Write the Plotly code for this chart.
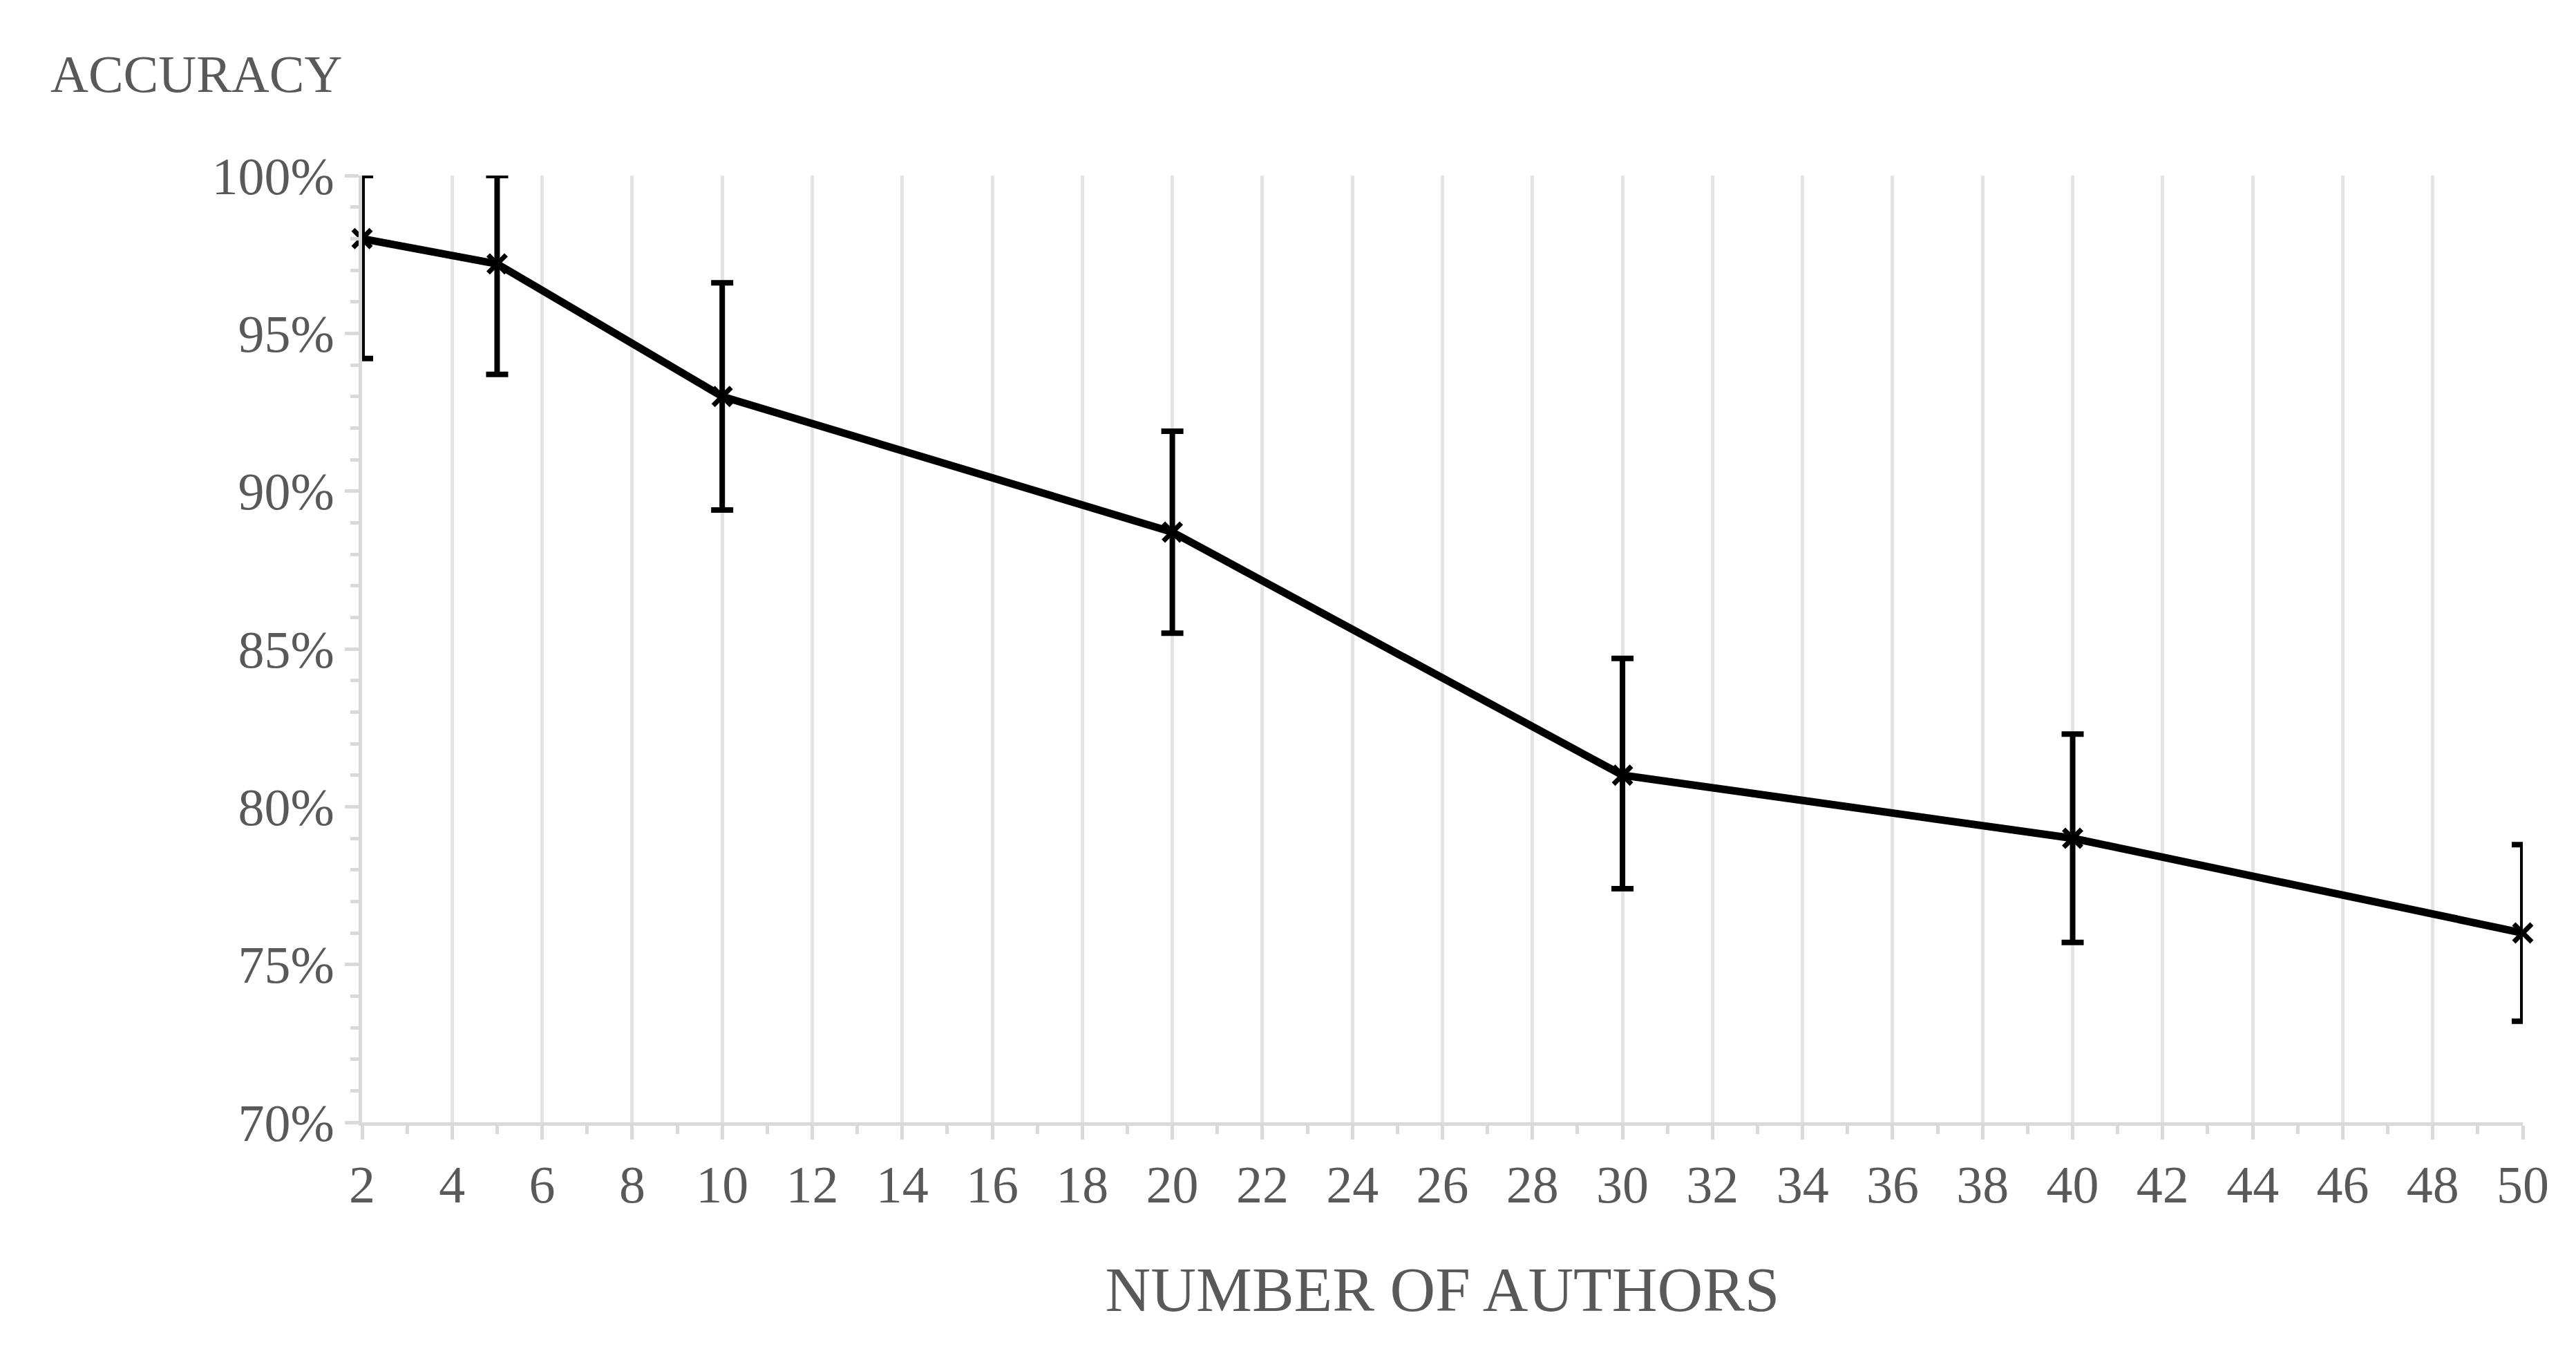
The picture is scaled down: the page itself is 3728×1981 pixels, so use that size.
import plotly.graph_objects as go

authors = [2, 5, 10, 20, 30, 40, 50]
accuracy = [98.0, 97.2, 93.0, 88.7, 81.0, 79.0, 76.0]
err_plus = [2.0, 2.8, 3.6, 3.2, 3.7, 3.3, 2.8]
err_minus = [3.8, 3.5, 3.6, 3.2, 3.6, 3.3, 2.8]
xticks = list(range(2, 51, 2))
yticks = [70, 75, 80, 85, 90, 95, 100]

fig = go.Figure(go.Scatter(
    x=authors, y=accuracy, mode="lines+markers", cliponaxis=False,
    line=dict(color="black", width=11),
    marker=dict(symbol="x-thin", size=26, line=dict(color="black", width=7)),
    error_y=dict(type="data", symmetric=False, array=err_plus, arrayminus=err_minus,
                 color="black", thickness=8, width=16),
))
font = dict(family="Liberation Serif, DejaVu Serif, serif", size=76, color="#595959")
fig.update_layout(
    width=3728, height=1981, paper_bgcolor="white", plot_bgcolor="white",
    margin=dict(l=516, r=85, t=246, b=365), showlegend=False, font=font,
    xaxis=dict(range=[2, 50], tickvals=xticks, showgrid=True, gridcolor="#e3e3e3", gridwidth=5,
               showline=True, linecolor="#d9d9d9", linewidth=5, ticks="outside", ticklen=20,
               tickcolor="#d9d9d9", tickwidth=5, zeroline=False,
               minor=dict(dtick=1, ticks="outside", ticklen=12, tickcolor="#d9d9d9", showgrid=False),
               title=dict(text="NUMBER OF AUTHORS", standoff=80)),
    yaxis=dict(range=[70, 100], tickvals=yticks, ticktext=[f"{v}%" for v in yticks],
               showgrid=False, showline=True, linecolor="#d9d9d9", linewidth=5,
               ticks="outside", ticklen=20, tickcolor="#d9d9d9", tickwidth=5, zeroline=False,
               minor=dict(dtick=1, ticks="outside", ticklen=12, tickcolor="#d9d9d9")),
    annotations=[dict(text="ACCURACY", xref="paper", yref="paper", x=-0.145, y=1.075,
                      xanchor="left", yanchor="bottom", showarrow=False, font=font)],
)
fig.write_html("out.html")
